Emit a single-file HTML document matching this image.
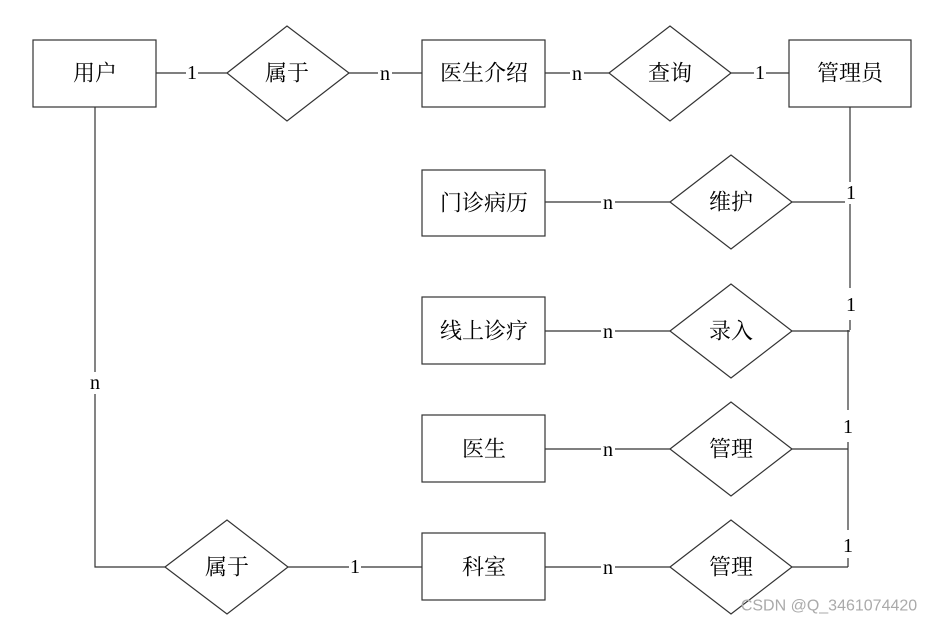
<!DOCTYPE html>
<html><head><meta charset="utf-8"><style>
body{margin:0;background:#fff}
svg text{font-family:"Liberation Serif","Noto Serif CJK SC",serif;font-size:22px;text-anchor:middle;dominant-baseline:central;fill:#000}
</style></head><body>
<svg width="942" height="624" xmlns="http://www.w3.org/2000/svg">
<g stroke="#333" stroke-width="1.2" fill="none">
<!-- top row -->
<line x1="156" y1="73" x2="227" y2="73"/>
<line x1="349" y1="73" x2="422" y2="73"/>
<line x1="545" y1="73" x2="609" y2="73"/>
<line x1="731" y1="73" x2="789" y2="73"/>
<!-- right verticals -->
<line x1="850" y1="107" x2="850" y2="330"/>
<line x1="848" y1="330" x2="848" y2="567"/>
<line x1="792" y1="202" x2="845" y2="202"/>
<line x1="792" y1="331" x2="850" y2="331"/>
<line x1="792" y1="449" x2="848" y2="449"/>
<line x1="792" y1="567" x2="848" y2="567"/>
<!-- middle connectors -->
<line x1="545" y1="202" x2="670" y2="202"/>
<line x1="545" y1="331" x2="670" y2="331"/>
<line x1="545" y1="449" x2="670" y2="449"/>
<line x1="545" y1="567" x2="670" y2="567"/>
<!-- left -->
<polyline points="95,107 95,567 165,567"/>
<line x1="288" y1="567" x2="422" y2="567"/>
</g>
<g stroke="#333" stroke-width="1.2" fill="#fff">
<rect x="33" y="40" width="123" height="67"/>
<rect x="422" y="40" width="123" height="67"/>
<rect x="789" y="40" width="122" height="67"/>
<rect x="422" y="170" width="123" height="66"/>
<rect x="422" y="297" width="123" height="67"/>
<rect x="422" y="415" width="123" height="67"/>
<rect x="422" y="533" width="123" height="67"/>
<polygon points="227,73 287,26 349,73 287,121"/>
<polygon points="609,73 670,26 731,73 670,121"/>
<polygon points="670,202 731,155 792,202 731,249"/>
<polygon points="670,331 731,284 792,331 731,378"/>
<polygon points="670,449 731,402 792,449 731,496"/>
<polygon points="670,567 731,520 792,567 731,614"/>
<polygon points="165,567 227,520 288,567 227,614"/>
</g>
<g>
<text x="95" y="73">用户</text>
<text x="287" y="73">属于</text>
<text x="484" y="73">医生介绍</text>
<text x="670" y="73">查询</text>
<text x="850" y="73">管理员</text>
<text x="484" y="203">门诊病历</text>
<text x="484" y="331">线上诊疗</text>
<text x="484" y="449">医生</text>
<text x="484" y="567">科室</text>
<text x="731" y="202">维护</text>
<text x="731" y="331">录入</text>
<text x="731" y="449">管理</text>
<text x="731" y="567">管理</text>
<text x="227" y="567">属于</text>
</g>
<g style="font-size:20px">
<rect x="186" y="62" width="12" height="22" fill="#fff"/><text x="192" y="73" style="font-size:20px">1</text>
<rect x="378" y="62" width="14" height="22" fill="#fff"/><text x="385" y="74" style="font-size:20px">n</text>
<rect x="570" y="62" width="14" height="22" fill="#fff"/><text x="577" y="74" style="font-size:20px">n</text>
<rect x="754" y="62" width="12" height="22" fill="#fff"/><text x="760" y="73" style="font-size:20px">1</text>
<rect x="845" y="182" width="12" height="22" fill="#fff"/><text x="851" y="193" style="font-size:20px">1</text>
<rect x="845" y="288" width="12" height="32" fill="#fff"/><text x="851" y="305" style="font-size:20px">1</text>
<rect x="842" y="410" width="12" height="32" fill="#fff"/><text x="848" y="427" style="font-size:20px">1</text>
<rect x="842" y="530" width="12" height="28" fill="#fff"/><text x="848" y="546" style="font-size:20px">1</text>
<rect x="601" y="192" width="14" height="22" fill="#fff"/><text x="608" y="203" style="font-size:20px">n</text>
<rect x="601" y="321" width="14" height="22" fill="#fff"/><text x="608" y="332" style="font-size:20px">n</text>
<rect x="601" y="439" width="14" height="22" fill="#fff"/><text x="608" y="450" style="font-size:20px">n</text>
<rect x="601" y="557" width="14" height="22" fill="#fff"/><text x="608" y="568" style="font-size:20px">n</text>
<rect x="88" y="372" width="14" height="22" fill="#fff"/><text x="95" y="383" style="font-size:20px">n</text>
<rect x="349" y="556" width="12" height="22" fill="#fff"/><text x="355" y="567" style="font-size:20px">1</text>
</g>
<text x="829" y="606" style="font-family:'Liberation Sans',sans-serif;font-size:16px;fill:#aaa">CSDN @Q_3461074420</text>
</svg>
</body></html>
